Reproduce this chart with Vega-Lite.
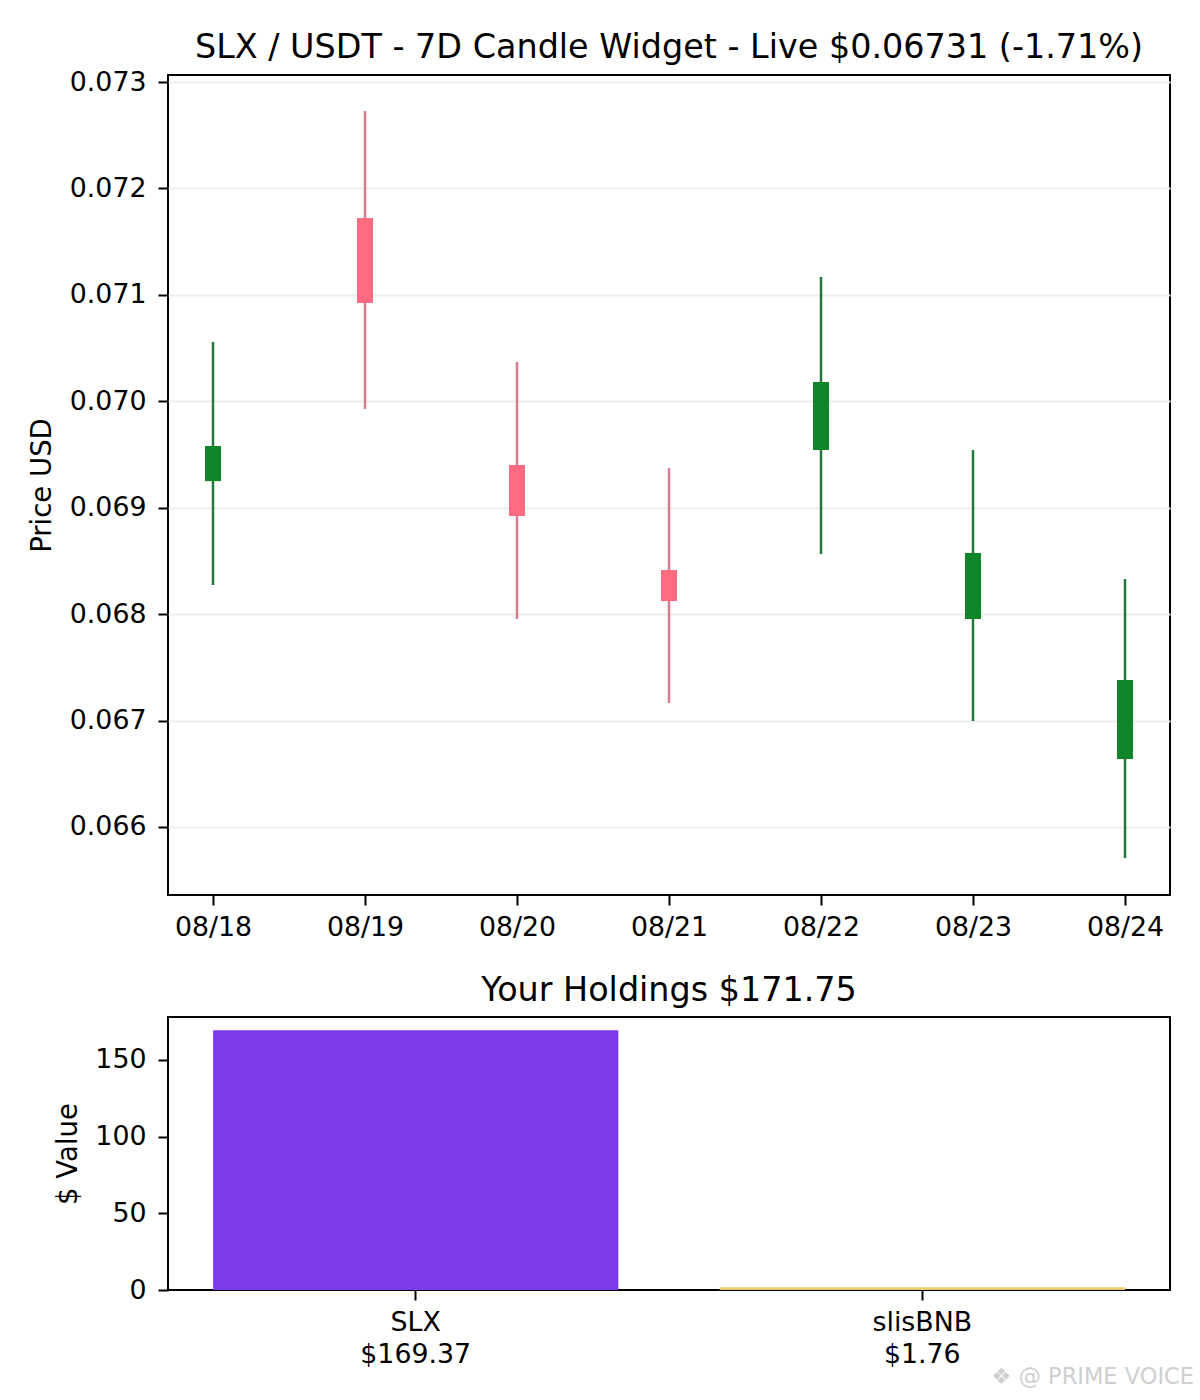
{
  "$schema": "https://vega.github.io/schema/vega-lite/v6.json",
  "background": "white",
  "padding": {"left": 27, "top": 29, "right": 8, "bottom": 0},
  "title": {
    "text": "❖ @ PRIME VOICE",
    "orient": "bottom",
    "anchor": "end",
    "offset": -3,
    "dx": 23,
    "fontSize": 22.5,
    "fontWeight": "normal",
    "font": "DejaVu Sans",
    "color": "#cfcfcf"
  },
  "config": {
    "font": "DejaVu Sans",
    "view": {"stroke": "black", "strokeWidth": 2},
    "title": {"fontSize": 33.4, "fontWeight": "normal", "color": "black"},
    "axis": {
      "labelFontSize": 26.8,
      "titleFontSize": 27.5,
      "titleFontWeight": "normal",
      "labelColor": "black",
      "titleColor": "black",
      "tickColor": "black",
      "tickWidth": 2,
      "tickSize": 10,
      "domain": false,
      "labelPadding": 8
    }
  },
  "bounds": "flush",
  "spacing": 122,
  "vconcat": [
    {
      "width": 1002,
      "height": 820,
      "title": {"text": "SLX / USDT - 7D Candle Widget - Live $0.06731 (-1.71%)", "offset": 4},
      "data": {
        "values": [
          {"date": "08/18", "open": 0.06925, "close": 0.06958, "high": 0.070557, "low": 0.068274, "dir": "up"},
          {"date": "08/19", "open": 0.071722, "close": 0.070923, "high": 0.072727, "low": 0.069927, "dir": "down"},
          {"date": "08/20", "open": 0.069401, "close": 0.068922, "high": 0.070369, "low": 0.067954, "dir": "down"},
          {"date": "08/21", "open": 0.068415, "close": 0.068123, "high": 0.069373, "low": 0.067165, "dir": "down"},
          {"date": "08/22", "open": 0.069542, "close": 0.070181, "high": 0.071168, "low": 0.068565, "dir": "up"},
          {"date": "08/23", "open": 0.067954, "close": 0.068574, "high": 0.069542, "low": 0.066996, "dir": "up"},
          {"date": "08/24", "open": 0.066639, "close": 0.067381, "high": 0.06833, "low": 0.065709, "dir": "up"}
        ]
      },
      "encoding": {
        "x": {
          "field": "date",
          "type": "ordinal",
          "title": null,
          "scale": {"type": "point", "padding": 0.296},
          "axis": {"labelAngle": 0, "grid": false, "labelPadding": 9}
        }
      },
      "layer": [
        {
          "mark": {"type": "rule", "strokeWidth": 2.5},
          "encoding": {
            "y": {
              "field": "low",
              "type": "quantitative",
              "title": "Price USD",
              "scale": {"domain": [0.065361, 0.073066], "nice": false, "zero": false},
              "axis": {
                "values": [0.066, 0.067, 0.068, 0.069, 0.07, 0.071, 0.072, 0.073],
                "format": ".3f",
                "grid": true,
                "gridColor": "#eeeeee",
                "gridWidth": 2,
                "labelPadding": 12,
                "titlePadding": 13
              }
            },
            "y2": {"field": "high"},
            "stroke": {
              "field": "dir",
              "type": "nominal",
              "legend": null,
              "scale": {"domain": ["up", "down"], "range": ["#217a3a", "#d87c8e"]}
            }
          }
        },
        {
          "mark": {"type": "bar", "size": 16},
          "encoding": {
            "y": {"field": "open", "type": "quantitative"},
            "y2": {"field": "close"},
            "fill": {
              "field": "dir",
              "type": "nominal",
              "legend": null,
              "scale": {"domain": ["up", "down"], "range": ["#0d8528", "#ff6b81"]}
            }
          }
        }
      ]
    },
    {
      "width": 1002,
      "height": 273,
      "title": {"text": "Your Holdings $171.75", "offset": 9},
      "data": {
        "values": [
          {"token": "SLX", "label": "SLX\n$169.37", "value": 169.37},
          {"token": "slisBNB", "label": "slisBNB\n$1.76", "value": 1.76}
        ]
      },
      "mark": {"type": "bar"},
      "encoding": {
        "x": {
          "field": "label",
          "type": "nominal",
          "title": null,
          "sort": null,
          "scale": {"paddingInner": 0.2, "paddingOuter": 0.089},
          "axis": {"labelAngle": 0, "labelExpr": "split(datum.value, '\\n')", "labelLineHeight": 32, "labelPadding": 9, "grid": false}
        },
        "y": {
          "field": "value",
          "type": "quantitative",
          "title": "$ Value",
          "scale": {"domain": [0, 178], "nice": false},
          "axis": {"values": [0, 50, 100, 150], "grid": false, "labelPadding": 12, "titlePadding": 12}
        },
        "color": {
          "field": "token",
          "type": "nominal",
          "legend": null,
          "scale": {"domain": ["SLX", "slisBNB"], "range": ["#7c3aeb", "#eacb6e"]}
        }
      }
    }
  ]
}
